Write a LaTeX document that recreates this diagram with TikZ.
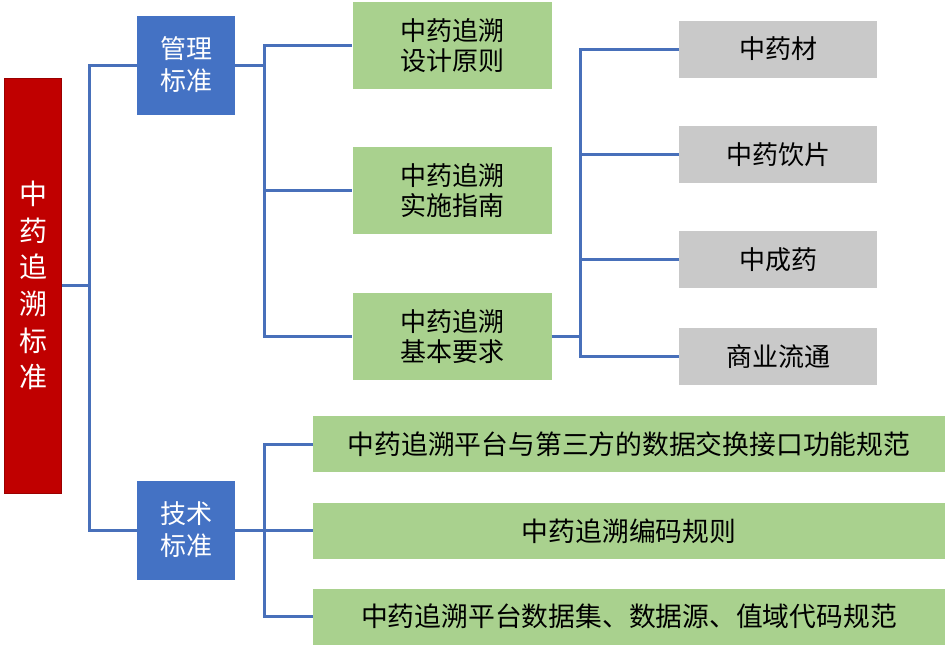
\documentclass[tikz,border=0pt]{standalone}
\usepackage{fontspec}
\setmainfont{Noto Sans CJK SC}
\usepackage{tikz}
\usetikzlibrary{positioning}
\usepackage{xcolor}
\definecolor{RootRed}{RGB}{192,0,0}
\definecolor{MidBlue}{RGB}{68,114,196}
\definecolor{LeafGreen}{RGB}{169,209,142}
\definecolor{LeafGray}{RGB}{201,201,201}
\definecolor{LinkBlue}{RGB}{72,112,186}

\begin{document}
\begin{tikzpicture}[x=0.5pt, y=-0.5pt,
    rootbox/.style={rectangle, fill=RootRed, draw=RootRed!80!black, text=white,
                minimum width=28.5pt, minimum height=207.5pt, inner sep=0pt,
                align=center, font={\fontsize{14}{18.3}\selectfont}},
    midbox/.style={rectangle, fill=MidBlue, text=white,
                minimum width=49pt, minimum height=49.5pt, inner sep=0pt,
                align=center, font={\fontsize{13}{16}\selectfont}},
    greenbox/.style={rectangle, fill=LeafGreen,
                minimum width=99.5pt, minimum height=43.5pt, inner sep=0pt,
                align=center, font={\fontsize{13}{15}\selectfont}},
    longbox/.style={rectangle, fill=LeafGreen,
                minimum width=316pt, minimum height=28pt, inner sep=0pt,
                font={\fontsize{13.4}{15}\selectfont}},
    graybox/.style={rectangle, fill=LeafGray,
                minimum width=99pt, minimum height=28.5pt, inner sep=0pt,
                font={\fontsize{13}{15}\selectfont}},
    link/.style={draw=LinkBlue, line width=1.5pt}
]
    \useasboundingbox (0,0) rectangle (949,644);

    \node[rootbox] (root) at (33,285.5) {中\\药\\追\\溯\\标\\准};
    \node[midbox] (mgmt) at (186,65) {管理\\标准};
    \node[midbox] (tech) at (186,530) {技术\\标准};

    \node[greenbox] (design) at (452,45.5) {中药追溯\\设计原则};
    \node[greenbox, below=28.5pt of design] (guide) {中药追溯\\实施指南};
    \node[greenbox, below=29pt of guide] (basic) {中药追溯\\基本要求};

    \node[graybox] (herb) at (778,49) {中药材};
    \node[graybox] (slice) at (778,154.5) {中药饮片};
    \node[graybox] (patent) at (778,259.5) {中成药};
    \node[graybox] (trade) at (778,356.5) {商业流通};

    \node[longbox] (iface) at (629,444) {中药追溯平台与第三方的数据交换接口功能规范};
    \node[longbox, below=15pt of iface] (coding) {中药追溯编码规则};
    \node[longbox, below=14.5pt of coding] (dataset) {中药追溯平台数据集、数据源、值域代码规范};

    % root -> mgmt / tech
    \draw[link] (root.east) -- ++(28,0) |- (mgmt.west);
    \draw[link] (root.east) -- ++(28,0) |- (tech.west);

    % mgmt -> green boxes
    \foreach \leaf in {design, guide, basic}
        \draw[link] (mgmt.east) -- ++(29,0) |- (\leaf.west);

    % basic -> gray boxes
    \foreach \leaf in {herb, slice, patent, trade}
        \draw[link] (basic.east) -- ++(29,0) |- (\leaf.west);

    % tech -> long boxes
    \foreach \leaf in {iface, coding, dataset}
        \draw[link] (tech.east) -- ++(29,0) |- (\leaf.west);
\end{tikzpicture}
\end{document}
